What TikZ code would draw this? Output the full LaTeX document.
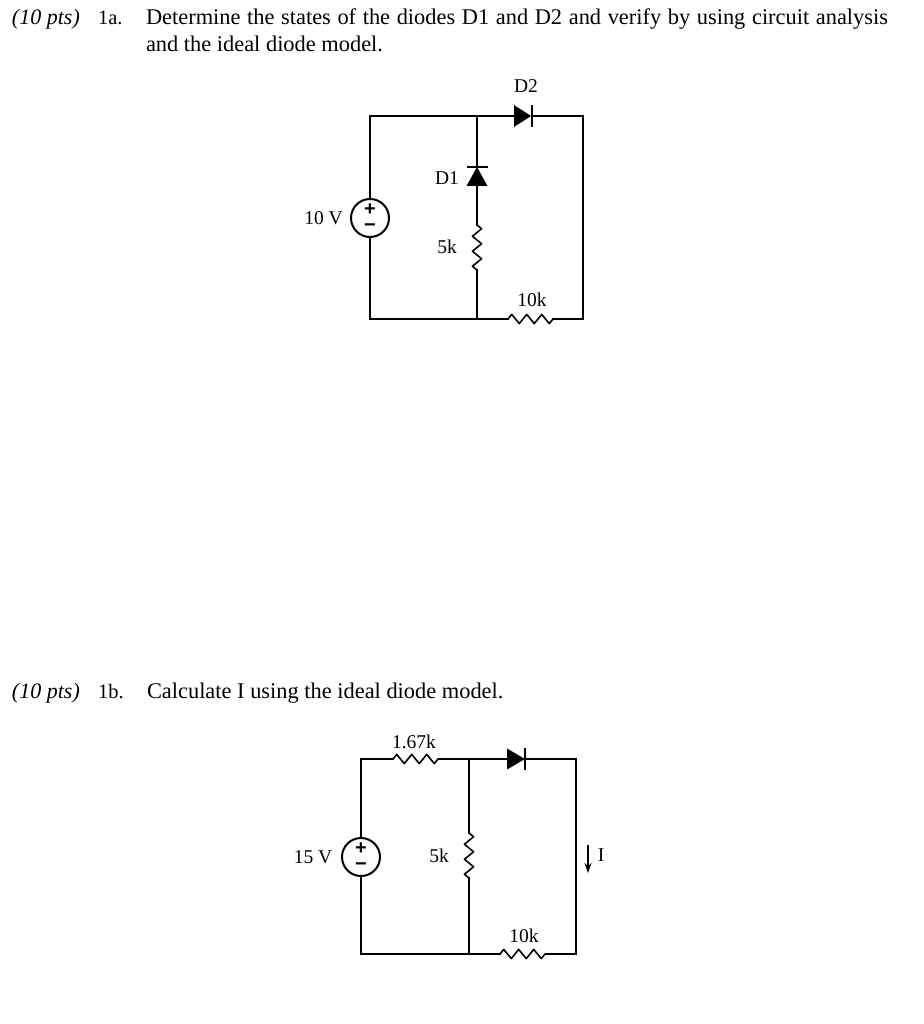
\documentclass[tikz,border=0pt]{standalone}
\usepackage{fontspec}
\setmainfont{Liberation Serif}
\setsansfont{Liberation Sans}
\usetikzlibrary{decorations.pathmorphing,arrows.meta}
\tikzset{
  wire/.style={line width=1.8pt,line cap=rect,line join=miter},
  resistor/.style={line width=1.6pt,line join=round,decorate,decoration={zigzag,segment length=15pt,amplitude=4.6pt,pre length=0pt,post length=0pt}},
  body/.style={anchor=base west,inner sep=0pt,outer sep=0pt,font=\fontsize{22.4}{26}\selectfont},
  small body/.style={body,font=\fontsize{20.5}{26}\selectfont},
  lab/.style={anchor=base,inner sep=0pt,outer sep=0pt,font=\fontsize{19.5}{22}\selectfont},
  source/.style={circle,draw,line width=2pt,minimum size=38pt,inner sep=0pt,fill=white},
  sign/.style={inner sep=0pt,align=center,font=\sffamily\bfseries\fontsize{20}{16}\selectfont},
  cur/.style={line width=1.4pt,-{Stealth[length=10pt,width=7pt]}}
}
\begin{document}
\begin{tikzpicture}[x=1pt,y=-1pt]
\useasboundingbox (0,0) rectangle (923,1024);
\fill[white] (0,0) rectangle (923,1024);
% text
\node[body,font=\fontsize{22}{26}\selectfont] (t1) at (12,25) {\textit{(10 pts)}};
\node[small body] (t2) at (98,25) {1a.};
\node[body] (t3) at (146,25) {\makebox[742pt][s]{Determine the states of the diodes D1 and D2 and verify by using circuit analysis}};
\node[body] (t4) at (146,52) {and the ideal diode model.};
\node[body,font=\fontsize{22}{26}\selectfont] (t5) at (12,698.5) {\textit{(10 pts)}};
\node[small body] (t6) at (98,698.5) {1b.};
\node[body] (t7) at (147,698.5) {Calculate I using the ideal diode model.};
% circuit 1
\coordinate (atl) at (370,116);
\coordinate (atm) at (477,116);
\coordinate (atr) at (583,116);
\coordinate (abl) at (370,319);
\coordinate (abm) at (477,319);
\coordinate (abr) at (583,319);
\node[source] (avs) at (370,218) {};
\node[sign] (asign) at (370,218) {+\\−};
\coordinate (d2a) at (514,116);
\coordinate (d2k) at (532,116);
\coordinate (d1a) at (477,186);
\coordinate (d1k) at (477,167);
\coordinate (r5t) at (477,225);
\coordinate (r5b) at (477,270);
\coordinate (r10l) at (508,319);
\coordinate (r10r) at (553,319);
\draw[wire] (avs.north) -- (atl) -- (d2a);
\draw[wire] (d2k) -- (atr) -- (abr) -- (r10r);
\draw[wire] (r10l) -- (abl) -- (avs.south);
\draw[wire] (atm) -- (d1k);
\draw[wire] (d1a) -- (r5t);
\draw[wire] (r5b) -- (abm);
\draw[resistor] (r5t) -- (r5b);
\draw[resistor] (r10l) -- (r10r);
\fill (d2a) ++(0,-11) -- ++(17,11) -- ++(-17,11) -- cycle;
\draw[line width=2pt] (d2k) ++(0,-11) -- ++(0,22);
\fill (d1a) ++(-10.5,0) -- ++(10.5,-19) -- ++(10.5,19) -- cycle;
\draw[line width=2pt] (d1k) ++(-10.5,0) -- ++(21,0);
\node[lab] (la1) at (526,93) {D2};
\node[lab] (la2) at (447,184.5) {D1};
\node[lab] (la3) at (323.5,224.5) {10 V};
\node[lab] (la4) at (447,253) {5k};
\node[lab] (la5) at (532,306) {10k};
% circuit 2
\coordinate (btl) at (361,759);
\coordinate (btm) at (469,759);
\coordinate (btr) at (576,759);
\coordinate (bbl) at (361,954);
\coordinate (bbm) at (469,954);
\coordinate (bbr) at (576,954);
\node[source] (bvs) at (361,857) {};
\node[sign] (bsign) at (361,857) {+\\−};
\coordinate (r1l) at (393,759);
\coordinate (r1r) at (439,759);
\coordinate (da) at (507,759);
\coordinate (dk) at (525,759);
\coordinate (r2t) at (469,833);
\coordinate (r2b) at (469,878);
\coordinate (r3l) at (500,954);
\coordinate (r3r) at (547,954);
\coordinate (ia) at (588,845);
\coordinate (ib) at (588,873);
\draw[wire] (bvs.north) -- (btl) -- (r1l);
\draw[wire] (r1r) -- (da);
\draw[wire] (dk) -- (btr) -- (bbr) -- (r3r);
\draw[wire] (r3l) -- (bbl) -- (bvs.south);
\draw[wire] (btm) -- (r2t);
\draw[wire] (r2b) -- (bbm);
\draw[resistor] (r1l) -- (r1r);
\draw[resistor] (r2t) -- (r2b);
\draw[resistor] (r3l) -- (r3r);
\fill (da) ++(0,-10.5) -- ++(18,10.5) -- ++(-18,10.5) -- cycle;
\draw[line width=2pt] (dk) ++(0,-11) -- ++(0,22);
\draw[cur] (ia) -- (ib);
\node[lab] (lb1) at (414,748) {1.67k};
\node[lab] (lb2) at (313,863.5) {15 V};
\node[lab] (lb3) at (439,862) {5k};
\node[lab] (lb4) at (524,942) {10k};
\node[lab] (lb5) at (601,861) {I};
\end{tikzpicture}
\end{document}
